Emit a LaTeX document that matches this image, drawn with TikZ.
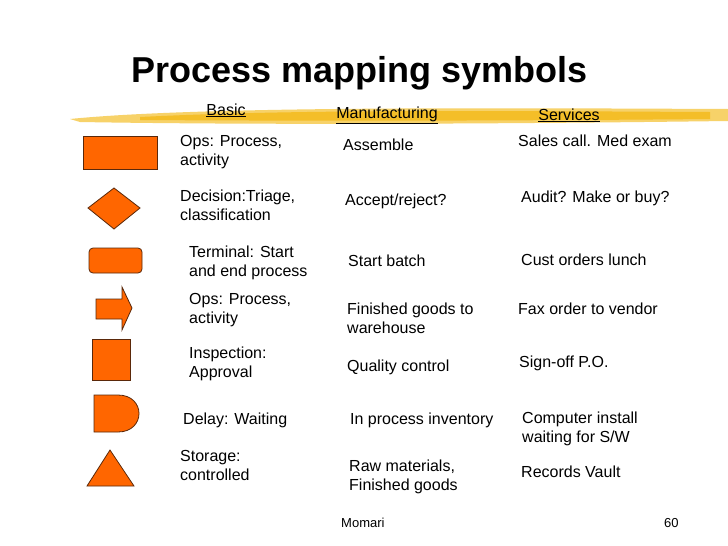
\documentclass[tikz,border=0pt]{standalone}
\usepackage{fontspec}
\setmainfont{Liberation Sans}
\usetikzlibrary{shapes.geometric,shapes.symbols,positioning}
\definecolor{symbolfill}{RGB}{255,102,0}
\definecolor{symboledge}{RGB}{90,40,10}
\definecolor{brush}{RGB}{244,190,40}
\begin{document}
\begin{tikzpicture}[x=1pt, y=-1pt, font=\fontsize{16}{19}\selectfont,
                    sym/.style = {fill=symbolfill, draw=symboledge, line width=0.8pt},
                    txt/.style = {anchor=north west, align=left, inner sep=0pt},
                    head/.style = {anchor=base, inner sep=0pt}]
\useasboundingbox (0,0) rectangle (728,546);
\fill[white] (0,0) rectangle (728,546);
% yellow brush stroke
\fill[brush!70] (70,119) .. controls (200,106) and (500,108) .. (728,109)
    -- (728,121) .. controls (500,124) and (250,125) .. (80,122) -- cycle;
\fill[brush] (140,117) .. controls (300,109) and (500,111) .. (710,112)
    -- (710,119) .. controls (500,121) and (300,121) .. (140,120) -- cycle;
\node[anchor=base west, inner sep=0pt, font=\fontsize{36}{40}\bfseries\selectfont] (title) at (131,82) {Process mapping symbols};
\node[head] (basic) at (226,115) {\underline{Basic}};
\node[head] (manu) at (387,118) {\underline{Manufacturing}};
\node[head] (serv) at (569,120) {\underline{Services}};
% symbols
\draw[sym] (83,136) rectangle (157,169);
\draw[sym] (88,208) -- (114,188) -- (140,208) -- (114,229) -- cycle;
\draw[sym, rounded corners=4pt] (89,248) rectangle (142,273);
\draw[sym] (96,299) -- (122,299) -- (122,287) -- (132,308) -- (122,330) -- (122,319) -- (96,319) -- cycle;
\draw[sym] (92,339) rectangle (130,380);
\draw[sym] (94,395) -- (118,395) .. controls (146,395) and (146,432) .. (118,432) -- (94,432) -- cycle;
\draw[sym] (87,486) -- (110,450) -- (134,486) -- cycle;
% basic column
\node[txt] (b1) at (180,135) {Ops: Process,\\activity};
\node[txt] (b2) at (180,190) {Decision:Triage,\\classification};
\node[txt] (b3) at (189,246) {Terminal: Start\\and end process};
\node[txt] (b4) at (189,293) {Ops: Process,\\activity};
\node[txt] (b5) at (189,347) {Inspection:\\Approval};
\node[txt] (b6) at (183,413) {Delay: Waiting};
\node[txt] (b7) at (180,450) {Storage:\\controlled};
% manufacturing column
\node[txt] (m1) at (343,139) {Assemble};
\node[txt] (m2) at (345,194) {Accept/reject?};
\node[txt] (m3) at (348,255) {Start batch};
\node[txt] (m4) at (347,303) {Finished goods to\\warehouse};
\node[txt] (m5) at (347,360) {Quality control};
\node[txt] (m6) at (350,413) {In process inventory};
\node[txt] (m7) at (349,460) {Raw materials,\\Finished goods};
% services column
\node[txt] (s1) at (518,135) {Sales call. Med exam};
\node[txt] (s2) at (521,191) {Audit? Make or buy?};
\node[txt] (s3) at (521,254) {Cust orders lunch};
\node[txt] (s4) at (518,303) {Fax order to vendor};
\node[txt] (s5) at (519,356) {Sign-off P.O.};
\node[txt] (s6) at (522,412) {Computer install\\waiting for S/W};
\node[txt] (s7) at (521,466) {Records Vault};
% footer
\node[anchor=base west, inner sep=0pt, font=\fontsize{13}{15}\selectfont] (foot) at (341,527) {Momari};
\node[anchor=base west, inner sep=0pt, font=\fontsize{13}{15}\selectfont] (page) at (664,527) {60};
\end{tikzpicture}
\end{document}
